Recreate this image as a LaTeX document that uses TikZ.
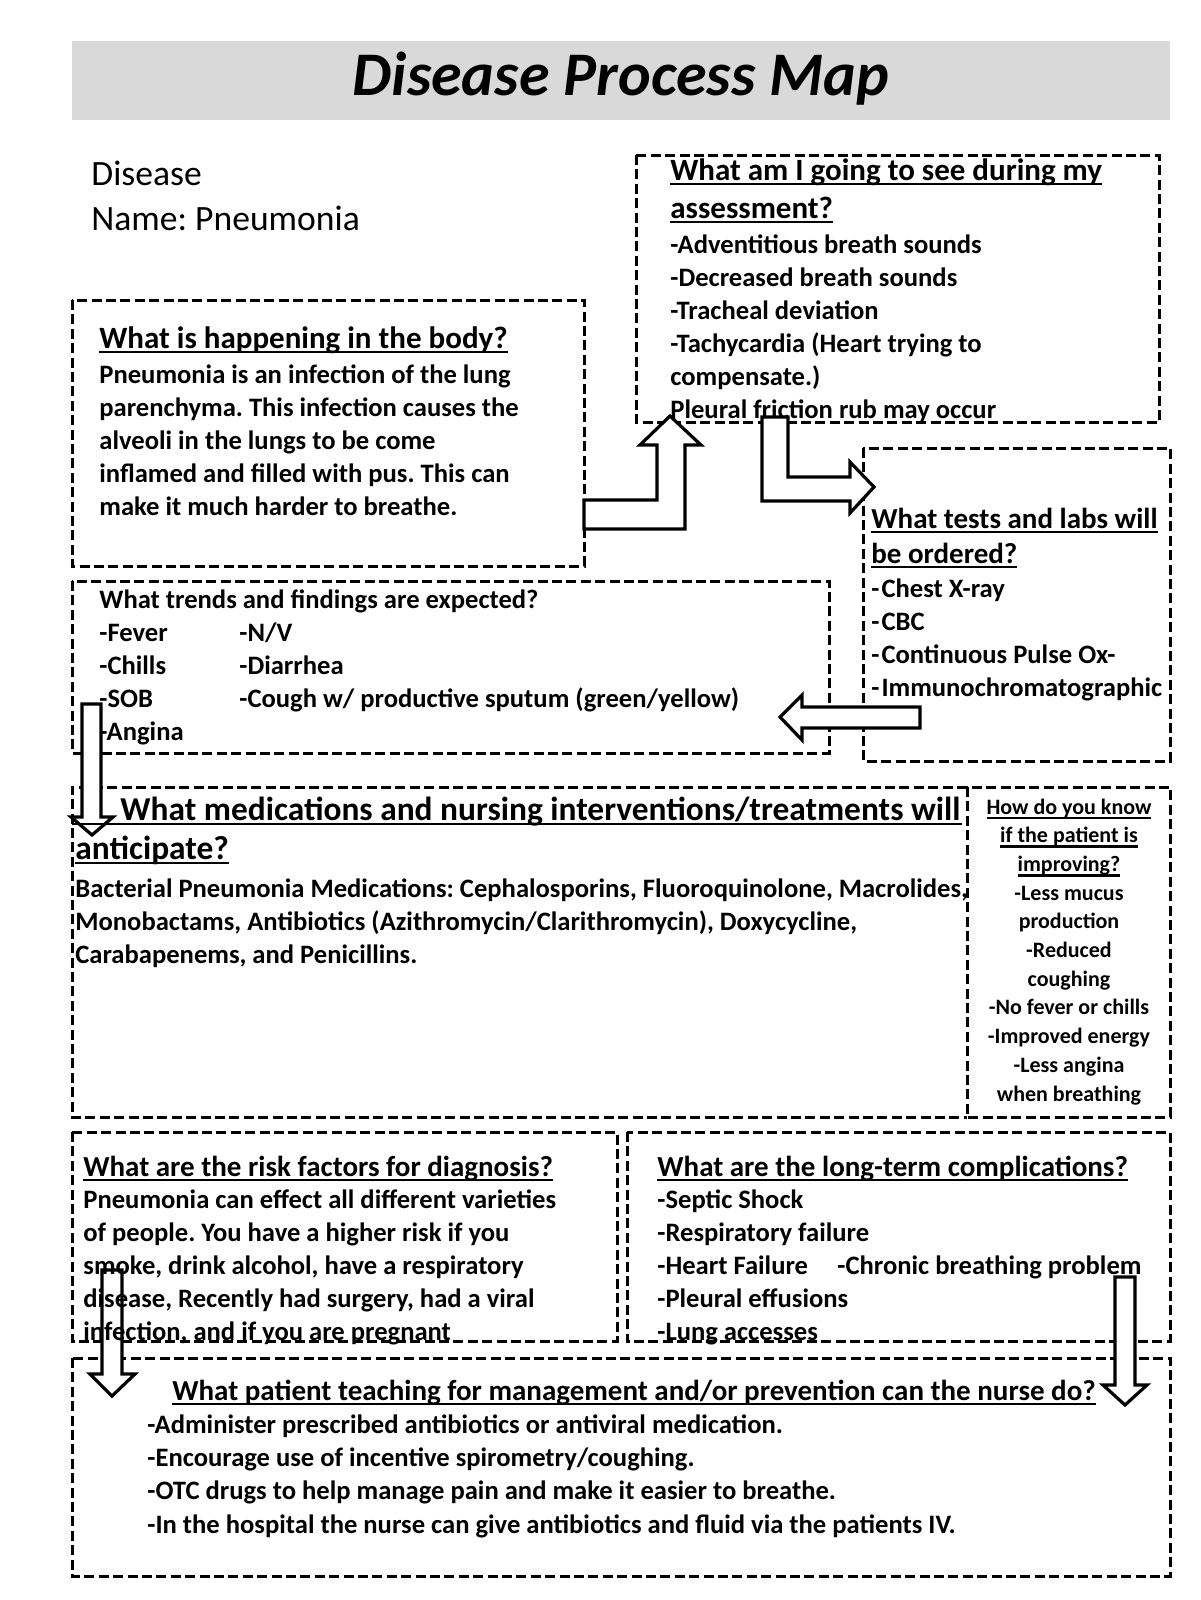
\documentclass[tikz,border=0pt]{standalone}
\usepackage{fontspec}
\setmainfont{Carlito}
\usetikzlibrary{calc}
\frenchspacing
\definecolor{titlegray}{RGB}{217,217,217}
\newcommand{\ulhead}[1]{\setbox0=\hbox{#1}\rlap{\rule[-2.6pt]{\wd0}{1.3pt}}\box0}
\tikzset{
%Define style for the dashed section boxes
section box/.style={line width=1.5pt, dash pattern=on 5pt off 2.2pt},
%Define style for the block arrows
block arrow/.style={draw, line width=1.6pt, fill=white, line join=miter},
%Define styles for the texts (multi-line nodes sit on their last baseline)
body text/.style={anchor=base west, inner sep=0pt, align=left, font=\fontsize{13.3}{16.5}\selectfont\bfseries},
head text/.style={anchor=base west, inner sep=0pt, align=left, font=\fontsize{14.5}{17.5}\selectfont\bfseries},
}
\begin{document}
\begin{tikzpicture}[x=0.5pt, y=-0.5pt]
    \useasboundingbox (0,0) rectangle (1200,1600);
    % Title bar
    \fill[titlegray] (72,41) rectangle (1170,120);
    \node[anchor=base, inner sep=0pt, font=\fontsize{31}{36}\selectfont\bfseries\itshape] (title) at (621,96) {Disease Process Map};
    \node[anchor=base west, inner sep=0pt, align=left, font=\fontsize{17.8}{22.5}\selectfont] (name) at (91,230) {Disease\\Name: Pneumonia};

    % Let us define the corners of the boxes
    \path
    coordinate (body nw) at (72,300)     coordinate (body se) at (584,566)
    coordinate (assess nw) at (636,155)  coordinate (assess se) at (1159,422)
    coordinate (tests nw) at (863,448)   coordinate (tests se) at (1170,761)
    coordinate (trends nw) at (72,581)   coordinate (trends se) at (829,753)
    coordinate (meds nw) at (72,787)     coordinate (meds se) at (967,1117)
    coordinate (better nw) at (967,787)  coordinate (better se) at (1170,1117)
    coordinate (risk nw) at (72,1132)    coordinate (risk se) at (617,1341)
    coordinate (compl nw) at (627,1132)  coordinate (compl se) at (1170,1341)
    coordinate (teach nw) at (72,1358)   coordinate (teach se) at (1170,1576);

    \foreach \b in {body,assess,tests,trends,better,risk,compl,teach}
      \draw[section box] (\b\space nw) rectangle (\b\space se);
    % the medications box shares its right side with the next box
    \draw[section box] (better nw) -- (meds nw) |- (meds se);

    % Block arrows between the boxes
    \draw[block arrow] (584,500) -- (657,500) -- (657,445) -- (640,445) -- (670,416)
      -- (701,445) -- (685,445) -- (685,529) -- (584,529) -- cycle;
    \draw[block arrow] (762,417) -- (788,417) -- (788,477) -- (850,477) -- (850,462)
      -- (874,487) -- (850,513) -- (850,501) -- (762,501) -- cycle;
    \draw[block arrow] (920,707) -- (802,707) -- (802,695) -- (780,717) -- (802,740)
      -- (802,728) -- (920,728) -- cycle;
    \draw[block arrow] (82,704) -- (101,704) -- (101,817) -- (113,817) -- (92,835)
      -- (71,817) -- (82,817) -- cycle;
    \draw[block arrow] (102,1270) -- (122,1270) -- (122,1374) -- (135,1374) -- (112,1396)
      -- (90,1374) -- (102,1374) -- cycle;
    \draw[block arrow] (1115,1277) -- (1135,1277) -- (1135,1385) -- (1147,1385) -- (1125,1405)
      -- (1103,1385) -- (1115,1385) -- cycle;

    % What is happening in the body?
    \node[head text, font=\fontsize{15.5}{19}\selectfont\bfseries] (body head) at (99,348) {\ulhead{What is happening in the body?}};
    \node[body text] (body txt) at (99,515) {Pneumonia is an infection of the lung\\
      parenchyma. This infection causes the\\alveoli in the lungs to be come\\
      inflamed and filled with pus. This can\\make it much harder to breathe.};

    % What am I going to see during my assessment?
    \node[head text, font=\fontsize{15.5}{19}\selectfont\bfseries] (assess head) at (670,218)
      {\ulhead{What am I going to see during my}\\\ulhead{assessment?}};
    \node[body text] (assess txt) at (670,418) {-Adventitious breath sounds\\-Decreased breath sounds\\
      -Tracheal deviation\\-Tachycardia (Heart trying to\\compensate.)\\Pleural friction rub may occur};

    % What tests and labs will be ordered?
    \node[head text] (tests head) at (871,563)
      {\ulhead{What tests and labs will}\\\ulhead{be ordered?}};
    \node[body text] (tests txt) at (871,696) {-\kern1pt Chest X-ray\\-\kern1pt CBC\\-\kern1pt Continuous Pulse Ox-\\-\kern1pt Immunochromatographic};

    % What trends and findings are expected?
    \node[body text] (trends head) at (99,608) {What trends and findings are expected?};
    \node[body text] (trends a) at (99,740) {-Fever\\-Chills\\-SOB\\-Angina};
    \node[body text] (trends b) at (239,707) {-N/V\\-Diarrhea\\-Cough w/ productive sputum (green/yellow)};

    % What medications and nursing interventions/treatments will I anticipate?
    \draw[line width=1.3pt] (72,824) -- (962,824);
    \node[head text, font=\fontsize{16.7}{19.5}\selectfont\bfseries] (meds head) at (120,820)
      {What medications and nursing interventions/treatments will};
    \node[head text, font=\fontsize{16.7}{19.5}\selectfont\bfseries] (meds head2) at (75,859) {\ulhead{anticipate?}};
    \node[body text] (meds txt) at (75,963) {Bacterial Pneumonia Medications: Cephalosporins, Fluoroquinolone, Macrolides,\\
      Monobactams, Antibiotics (Azithromycin/Clarithromycin), Doxycycline,\\Carabapenems, and Penicillins.};

    % How do you know if the patient is improving?
    \node[anchor=base, inner sep=0pt, align=center, font=\fontsize{11}{14.35}\selectfont\bfseries] (better txt) at (1069,1101)
      {\ulhead{How do you know}\\\ulhead{if the patient is}\\\ulhead{improving?}\\-Less mucus\\production\\
      -Reduced\\coughing\\-No fever or chills\\-Improved energy\\-Less angina\\when breathing};

    % What are the risk factors for diagnosis?
    \node[head text] (risk head) at (83,1176) {\ulhead{What are the risk factors for diagnosis?}};
    \node[body text] (risk txt) at (83,1340) {Pneumonia can effect all different varieties\\
      of people. You have a higher risk if you\\smoke, drink alcohol, have a respiratory\\
      disease, Recently had surgery, had a viral\\infection, and if you are pregnant};

    % What are the long-term complications?
    \node[head text] (compl head) at (657,1176) {\ulhead{What are the long-term complications?}};
    \node[body text] (compl txt) at (657,1340) {-Septic Shock\\-Respiratory failure\\-Heart Failure\\
      -Pleural effusions\\-Lung accesses};
    \node[body text] (compl b) at (837,1274) {-Chronic breathing problem};

    % What patient teaching for management and/or prevention can the nurse do?
    \node[head text] (teach head) at (172,1400)
      {\ulhead{What patient teaching for management and/or prevention can the nurse do?}};
    \node[body text, font=\fontsize{13.3}{16.65}\selectfont\bfseries] (teach txt) at (147,1533) {-Administer prescribed antibiotics or antiviral medication.\\
      -Encourage use of incentive spirometry/coughing.\\-OTC drugs to help manage pain and make it easier to breathe.\\
      -In the hospital the nurse can give antibiotics and fluid via the patients IV.};
\end{tikzpicture}
\end{document}
